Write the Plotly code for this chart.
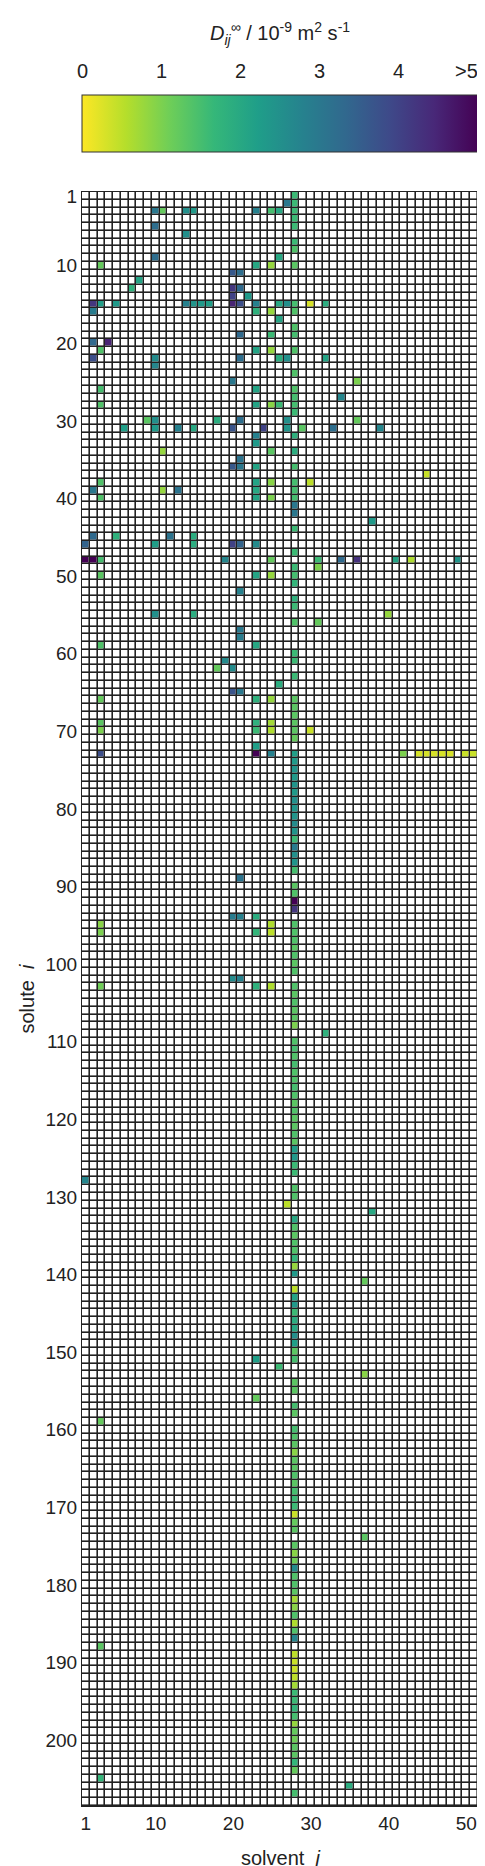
import plotly.graph_objects as go

n_solutes = 208
n_solvents = 51
N = None
# column j=28, rows 1..208
col28 = [1.6,1.6,1.6,1.6,1.6,N,1.6,1.4,N,1.3,
         N,N,N,N,1.5,1.4,N,1.4,1.5,N,
         1.4,N,N,1.4,N,1.4,1.5,1.5,1.6,N,
         N,1.8,N,1.9,N,1.5,N,1.5,1.5,1.5,
         3.0,3.0,N,1.6,N,N,1.6,N,1.6,1.5,
         1.7,N,1.8,1.6,N,1.4,N,N,N,1.6,
         1.6,N,1.6,N,N,1.3,1.3,1.3,1.3,1.3,
         1.2,N,2.2,2.3,2.4,2.3,2.4,2.3,2.5,2.4,
         2.4,2.6,2.4,1.6,2.9,2.5,2.4,1.5,N,1.3,
         1.4,5.0,4.2,N,1.4,1.4,1.4,1.3,1.4,1.3,
         1.4,N,1.4,1.3,1.4,1.3,1.3,1.0,N,1.4,
         1.5,1.4,1.5,1.4,1.4,1.5,1.4,1.3,1.4,1.3,
         1.3,1.4,1.3,2.2,2.3,1.6,1.6,N,1.4,1.4,
         N,N,2.0,1.4,1.3,1.4,1.4,1.7,0.8,2.3,
         N,0.5,2.1,2.3,1.6,1.9,2.0,2.5,2.2,1.3,
         1.5,N,N,1.3,1.3,N,1.5,1.3,N,1.5,
         1.4,1.3,0.9,1.3,1.3,1.4,1.3,1.5,1.6,1.6,
         0.4,1.2,1.3,N,1.3,0.9,1.1,2.6,1.4,1.4,
         1.3,0.7,0.9,1.4,0.6,1.4,2.7,N,0.5,0.4,
         0.4,0.5,0.7,1.6,1.6,1.7,1.5,0.8,1.2,1.1,
         1.3,1.3,1.7,1.2,N,N,1.5,N]

# other measured pairs (solute i, solvent j, value)
other_i = [2,3,3,3,3,3,3,3,5,6,9,9,10,10,10,11,11,12,13,13,13,14,14,
           15,15,15,15,15,15,15,15,15,15,15,15,15,15,16,16,16,17,19,19,
           20,20,21,21,21,22,22,22,22,22,22,23,25,25,26,26,27,28,28,28,28,
           30,30,30,30,30,30,31,31,31,31,31,31,31,31,31,31,32,33,34,34,35,
           36,36,36,37,38,38,38,38,39,39,39,39,40,40,40,43,
           45,45,45,45,46,46,46,46,46,46,48,48,48,48,48,48,48,48,48,48,48,
           49,50,50,50,52,55,55,55,56,57,58,59,59,61,62,62,
           64,65,65,66,66,66,69,69,69,70,70,70,70,72,
           73,73,73,73,73,73,73,73,73,73,73,
           89,94,94,94,95,95,96,96,96,102,102,103,103,103,109,
           128,131,132,141,151,152,153,156,159,174,188,205,206]
other_j = [27,10,11,14,15,23,25,26,10,14,10,26,3,23,25,20,21,8,7,20,21,20,22,
           2,3,5,14,15,16,17,20,21,23,26,27,30,32,2,23,25,26,21,25,
           2,4,3,23,25,2,10,21,26,27,32,10,20,36,3,23,34,3,23,25,26,
           9,10,18,21,27,36,6,10,13,15,20,24,27,29,33,39,23,23,11,25,21,
           20,21,23,45,3,23,25,30,2,11,13,23,3,23,25,38,
           2,5,12,15,1,10,15,20,21,23,1,2,3,19,25,31,34,36,41,43,49,
           31,3,23,25,21,10,15,40,31,21,21,3,23,19,18,20,
           26,20,21,3,23,25,3,23,25,3,23,25,30,23,
           3,23,25,42,44,45,46,47,48,50,51,
           21,20,21,23,3,25,3,23,25,20,21,3,23,25,32,
           1,27,38,37,23,26,37,23,3,37,3,3,35]
other_v = [3.0,3.0,1.2,2.5,2.3,2.8,1.5,2.0,3.2,2.5,3.2,2.0,1.2,2.0,0.8,3.6,3.2,2.1,1.8,4.2,3.3,4.0,2.3,
           4.2,2.2,2.3,2.8,2.4,2.3,2.2,4.5,3.8,2.8,2.0,2.5,0.3,1.9,2.9,1.8,0.8,2.1,3.3,1.6,
           3.3,4.5,1.4,2.1,0.8,3.8,2.6,3.2,1.9,2.5,2.1,2.7,3.0,1.0,1.5,2.1,2.7,1.4,2.1,0.9,1.6,
           1.3,2.5,1.9,3.2,2.5,1.2,2.2,2.3,2.8,2.0,3.7,4.0,2.4,1.3,3.2,2.7,2.8,2.3,0.8,1.3,3.1,
           3.6,3.0,2.1,0.4,1.4,2.1,0.9,0.5,3.0,0.8,3.1,2.0,1.4,2.1,1.0,2.3,
           3.3,1.8,3.1,1.9,3.4,2.2,1.9,4.0,3.4,2.6,5.0,5.0,1.5,2.7,1.2,1.6,3.3,4.3,2.1,0.6,2.4,
           1.0,1.3,2.1,0.8,2.8,2.5,1.9,0.8,1.2,3.0,2.9,1.4,2.0,2.6,1.2,2.6,
           1.9,3.7,3.0,1.2,1.8,0.8,1.3,1.8,0.7,1.0,1.6,0.6,0.4,2.2,
           3.8,5.0,2.8,1.0,0.3,0.3,0.3,0.3,0.3,0.4,0.4,
           3.1,2.9,2.8,1.9,0.9,0.6,1.0,1.7,0.5,2.6,2.8,1.1,1.8,0.6,1.8,
           2.7,0.5,2.0,1.2,2.2,1.6,0.9,1.2,1.2,1.3,1.3,1.7,1.9]

cbar_ticks = [0, 1, 2, 3, 4, 5]
cbar_labels = ["0", "1", "2", "3", "4", ">5"]
x_ticks = [1, 10, 20, 30, 40, 50]
y_ticks = [1, 10, 20, 30, 40, 50, 60, 70, 80, 90, 100, 110, 120, 130, 140,
           150, 160, 170, 180, 190, 200]

rows = list(range(1, n_solutes + 1))
cols = list(range(1, n_solvents + 1))
Z = [[None] * n_solvents for _ in rows]
for r, v in zip(rows, col28):
    if v is not None:
        Z[r - 1][27] = v
for i, j, v in zip(other_i, other_j, other_v):
    Z[i - 1][j - 1] = v
blank = [[0] * n_solvents for _ in rows]

font = "Liberation Sans, Arial, sans-serif"
txt = "#222"
fig = go.Figure()
fig.add_trace(go.Heatmap(z=blank, x=cols, y=rows, colorscale=[[0, "white"], [1, "white"]],
                         showscale=False, xgap=1.6, ygap=1.6, hoverinfo="skip"))
fig.add_trace(go.Heatmap(
    z=Z, x=cols, y=rows, colorscale="Viridis", reversescale=True, zmin=0, zmax=5,
    xgap=1.6, ygap=1.6, hoverongaps=False,
    colorbar=dict(orientation="h", x=0.5, xanchor="center", y=1.024, yanchor="bottom",
                  len=396, lenmode="pixels", thickness=57, thicknessmode="pixels",
                  outlinewidth=1, outlinecolor="#333", ticks="", ypad=0, xpad=0,
                  tickvals=cbar_ticks, showticklabels=False)))

anns = []
for v, lab in zip(cbar_ticks, cbar_labels):
    anns.append(dict(text=lab, xref="paper", yref="paper", x=v / 5, y=1.075,
                     xanchor="right" if lab.startswith(">") else "center", xshift=2 if lab.startswith(">") else 0,
                     yanchor="middle", showarrow=False, font=dict(size=20)))
anns += [
    dict(text="solvent  <i>j</i>", xref="paper", yref="paper", x=0.5, y=-0.032,
         xanchor="center", yanchor="middle", showarrow=False, font=dict(size=20)),
    dict(text="solute  <i>i</i>", xref="paper", yref="paper", x=-0.14, y=0.5,
         xanchor="center", yanchor="middle", showarrow=False, textangle=-90,
         font=dict(size=20)),
    dict(text="<i>D</i><sub><i>ij</i></sub><sup>∞</sup> / 10<sup>-9</sup> m<sup>2</sup> s<sup>-1</sup>",
         xref="paper", yref="paper", x=0.5, y=1.0985, xanchor="center", yanchor="middle",
         showarrow=False, font=dict(size=20)),
]

fig.update_layout(
    width=485, height=1866, margin=dict(l=74, r=15, t=184, b=68),
    paper_bgcolor="white", plot_bgcolor="#222",
    font=dict(family=font, size=19, color=txt),
    xaxis=dict(tickvals=x_ticks, range=[0.5, 51.5], showgrid=False, zeroline=False,
               ticks="", showline=True, linecolor="#222", mirror=True,
               tickfont=dict(size=19)),
    yaxis=dict(tickvals=y_ticks, range=[208.5, 0.5], showgrid=False, zeroline=False,
               ticks="", showline=True, linecolor="#222", mirror=True,
               tickfont=dict(size=19)),
    annotations=anns,
)
fig.write_html("out.html")
